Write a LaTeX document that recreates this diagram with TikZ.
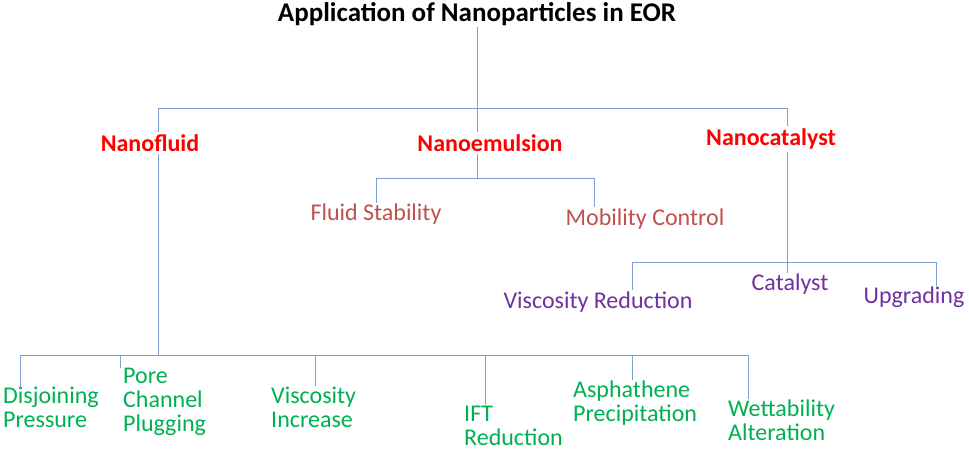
\documentclass[tikz,border=0pt]{standalone}
\usepackage{fontspec}
\setmainfont{Carlito}
\definecolor{ln}{HTML}{7F9FD0}
\definecolor{rs}{HTML}{C0504D}
\definecolor{pu}{HTML}{7030A0}
\definecolor{gr}{HTML}{00B050}
\begin{document}
\begin{tikzpicture}[x=1pt,y=-1pt,
  conn/.style={draw=ln,line width=0.9pt},
  cat/.style={text=red,font=\fontsize{24}{25}\selectfont\bfseries,fill=white,inner sep=2pt},
  rsl/.style={text=rs,font=\fontsize{24}{26}\selectfont,inner sep=1pt},
  pul/.style={text=pu,font=\fontsize{24}{26}\selectfont,inner sep=1pt},
  grl/.style={text=gr,font=\fontsize{24}{24}\selectfont,align=left,inner sep=1pt}]
\useasboundingbox (0,0) rectangle (969,452);
\node[font=\fontsize{27}{28}\selectfont\bfseries,inner sep=1pt] (t) at (477,14) {Application of Nanoparticles in EOR};
\coordinate (h1) at (477,108);
\draw[conn] (t.south) -- (h1);
\draw[conn] (158,108) -- (787,108);
% Nanofluid
\coordinate (nfb) at (158,355);
\draw[conn] (158,108) -- (nfb);
\node[cat] (nf) at (150,143) {Nanofluid};
% Nanoemulsion
\node[cat] (ne) at (490,143) {Nanoemulsion};
\draw[conn] (h1) -- (ne.north -| h1);
\coordinate (neh) at (477,178);
\draw[conn] (ne.south -| neh) -- (neh);
\draw[conn] (376,178) -- (594,178);
\node[rsl] (fs) at (376,214) {Fluid Stability};
\node[rsl] (mc) at (645,219) {Mobility Control};
\draw[conn] (376,178) -- (fs.north -| 376,0);
\draw[conn] (594,178) -- (594,207);
% Nanocatalyst
\node[cat] (nc) at (771,139) {Nanocatalyst};
\draw[conn] (787,108) -- (nc.north -| 787,0);
\draw[conn] (nc.south -| 787,0) -- (787,262);
\draw[conn] (632,262) -- (936,262);
\node[pul] (vr) at (598,302) {Viscosity Reduction};
\node[pul] (ca) at (790,284) {Catalyst};
\node[pul] (up) at (914,297) {Upgrading};
\draw[conn] (632,262) -- (632,290);
\draw[conn] (787,262) -- (787,273);
\draw[conn] (936,262) -- (936,286);
% bottom
\draw[conn] (20,355) -- (748,355);
\node[grl,anchor=north west] (dp) at (2,386) {Disjoining\\Pressure};
\node[grl,anchor=north west] (pc) at (122,367) {Pore\\Channel\\Plugging};
\node[grl,anchor=north west] (vi) at (270,386) {Viscosity\\Increase};
\node[grl,anchor=north west] (ift) at (463,405) {IFT\\Reduction};
\node[grl,anchor=north west] (as) at (572,380) {Asphathene\\Precipitation};
\node[grl,anchor=north west] (wa) at (727,399) {Wettability\\Alteration};
\draw[conn] (20,355) -- (20,388);
\draw[conn] (120,355) -- (120,368);
\draw[conn] (315,355) -- (315,386);
\draw[conn] (485,355) -- (485,405);
\draw[conn] (632,355) -- (632,380);
\draw[conn] (748,355) -- (748,399);
\end{tikzpicture}
\end{document}
